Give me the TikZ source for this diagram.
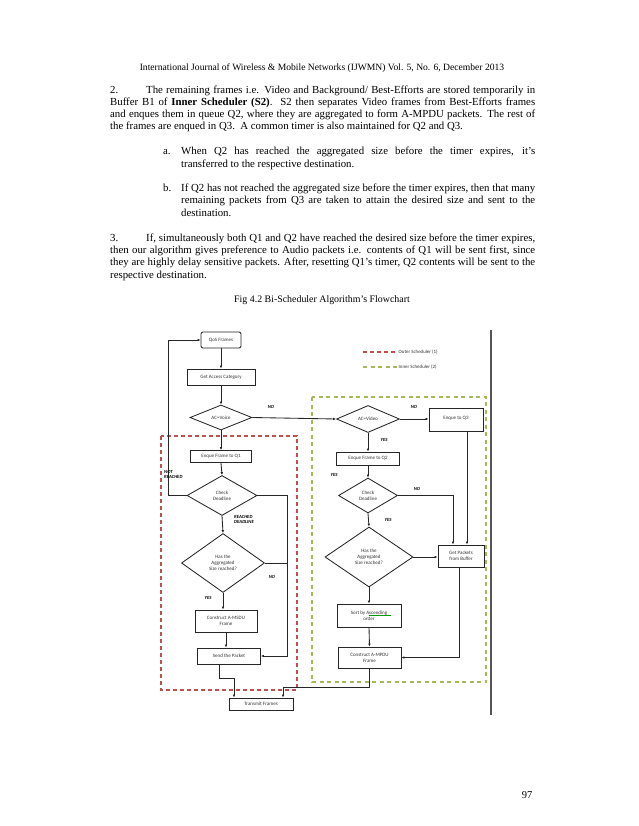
\documentclass[tikz,border=0pt]{standalone}
\usepackage{fontspec}
\setmainfont{Liberation Serif}
\newfontfamily\chartfont{Carlito}
\usetikzlibrary{shapes.geometric,arrows.meta}
\definecolor{outerred}{HTML}{C0504D}
\definecolor{innergreen}{HTML}{A5B95A}
\definecolor{pageline}{HTML}{555555}
\begin{document}
\begin{tikzpicture}[x=1pt,y=-1pt,
  txt/.style={font=\fontsize{10.8}{12}\selectfont, inner sep=0pt, anchor=base west},
  box/.style={draw=black!85, line width=0.85pt, inner sep=0pt, font=\chartfont\fontsize{5}{6}\selectfont, align=center, text=black!80},
  dia/.style={box, diamond},
  arr/.style={draw=black!85, line width=0.85pt, -{Latex[length=3pt,width=2.6pt]}},
  ln/.style={draw=black!85, line width=0.85pt},
  lab/.style={font=\chartfont\bfseries\itshape\fontsize{4.7}{5.7}\selectfont, inner sep=0pt, align=left},
  leg/.style={font=\chartfont\fontsize{4.9}{5.9}\selectfont, inner sep=0pt, anchor=west, text=black!80}
]
\useasboundingbox[fill=white] (0,0) rectangle (638,826);

% ---------------- page text ----------------
\node[font=\fontsize{9.6}{11}\selectfont, inner sep=0pt, anchor=base] (hdr) at (322,70.5)
  {International Journal of Wireless \& Mobile Networks (IJWMN) Vol. 5, No. 6, December 2013};

\node[txt] (p2n) at (110,93.5) {2.};
\node[txt] (p2a) at (146,93.5) {\makebox[389pt][s]{The remaining frames i.e. Video and Background/ Best-Efforts are stored temporarily in}};
\node[txt] (p2b) at (110,105.5) {\makebox[425pt][s]{Buffer B1 of \textbf{Inner Scheduler (S2)}.\ \ S2 then separates Video frames from Best-Efforts frames}};
\node[txt] (p2c) at (110,117.5) {\makebox[425pt][s]{and enques them in queue Q2, where they are aggregated to form A-MPDU packets. The rest of}};
\node[txt] (p2d) at (110,130) {the frames are enqued in Q3.\ \ A common timer is also maintained for Q2 and Q3.};

\node[txt] (pan) at (163,154.5) {a.};
\node[txt] (pa1) at (181,154.5) {\makebox[354pt][s]{When Q2 has reached the aggregated size before the timer expires, it's}};
\node[txt] (pa2) at (181,167.5) {transferred to the respective destination.};

\node[txt] (pbn) at (163,191.5) {b.};
\node[txt] (pb1) at (181,191.5) {\makebox[354pt][s]{If Q2 has not reached the aggregated size before the timer expires, then that many}};
\node[txt] (pb2) at (181,204) {\makebox[354pt][s]{remaining packets from Q3 are taken to attain the desired size and sent to the}};
\node[txt] (pb3) at (181,216.5) {destination.};

\node[txt] (p3n) at (110,241.5) {3.};
\node[txt] (p3a) at (146,241.5) {\makebox[389pt][s]{If, simultaneously both Q1 and Q2 have reached the desired size before the timer expires,}};
\node[txt] (p3b) at (110,253.5) {\makebox[425pt][s]{then our algorithm gives preference to Audio packets i.e. contents of Q1 will be sent first, since}};
\node[txt] (p3c) at (110,265.5) {\makebox[425pt][s]{they are highly delay sensitive packets. After, resetting Q1's timer, Q2 contents will be sent to the}};
\node[txt] (p3d) at (110,278) {respective destination.};

\node[font=\fontsize{9.9}{11}\selectfont, inner sep=0pt, anchor=base] (cap) at (322,302.5)
  {Fig 4.2 Bi-Scheduler Algorithm's Flowchart};

\node[font=\fontsize{10.5}{12}\selectfont, inner sep=0pt] (pnum) at (527,795) {97};

% ---------------- page edge line ----------------
\draw[pageline, line width=1.8pt] (491,330) -- (491,715);

% ---------------- scheduler regions ----------------
\draw[outerred, line width=1.3pt, dash pattern=on 4pt off 3pt] (161,436) rectangle (297,690);
\draw[innergreen, line width=1.3pt, dash pattern=on 4pt off 3.5pt] (312,397) rectangle (486,682);

% legend
\draw[outerred, line width=1.3pt, dash pattern=on 4pt off 3pt] (363,352) -- (398,352);
\node[leg] (legO) at (398.5,352) {Outer Scheduler (1)};
\draw[innergreen, line width=1.3pt, dash pattern=on 4pt off 3.5pt] (363,367) -- (398,367);
\node[leg] (legI) at (398.5,367) {Inner Scheduler (2)};

% ---------------- left column ----------------
\node[box, rounded corners=2pt, minimum width=40pt, minimum height=16pt] (start) at (221,340) {QoS Frames};
\node[box, minimum width=68pt, minimum height=16pt] (gac) at (221,377) {Get Access Category};
\node[dia, minimum width=62pt, minimum height=25pt] (voice) at (221,417.5) {AC=Voice};
\node[box, minimum width=61pt, minimum height=12pt] (enq1) at (221,456.5) {Enque Frame to Q1};
\node[dia, minimum width=70pt, minimum height=40pt] (cdl) at (222,495.5) {Check\\Deadline};
\node[dia, minimum width=83pt, minimum height=59pt] (hal) at (223,563) {Has the\\Aggregated\\Size reached?};
\node[box, minimum width=62pt, minimum height=22pt] (amsdu) at (226,621) {Construct A-MSDU\\Frame};
\node[box, minimum width=63pt, minimum height=16pt] (send) at (229,656) {Send the Packet};
\node[box, minimum width=64pt, minimum height=12pt] (tx) at (261,704) {Transmit Frames};

% ---------------- right column ----------------
\node[dia, minimum width=63pt, minimum height=27pt] (video) at (368,419) {AC=Video};
\node[box, minimum width=54pt, minimum height=23pt,
      label={[font=\chartfont\fontsize{5}{6}\selectfont, text=black!80, anchor=north, yshift=-5pt]north:Enque to Q3}] (q3) at (456,419.5) {};
\node[box, minimum width=63pt, minimum height=13pt] (enq2) at (368,458.5) {Enque Frame to Q2};
\node[dia, minimum width=59pt, minimum height=35pt] (cdr) at (368,495.5) {Check\\Deadline};
\node[dia, minimum width=88pt, minimum height=60pt] (har) at (369,557) {Has the\\Aggregated\\Size reached?};
\node[box, minimum width=46pt, minimum height=22pt] (gpb) at (461,556) {Get Packets\\from Buffer};
\node[box, minimum width=64pt, minimum height=23pt] (sort) at (369,615.5) {Sort by Ascending\\order};
\node[box, minimum width=63pt, minimum height=21pt] (ampdu) at (369.5,657.5) {Construct A-MPDU\\Frame};
\draw[green!60!black, line width=0.4pt] (369,614.8) -- (391,614.8);

% ---------------- connectors: left ----------------
\draw[arr] (start.south) -- (gac.north);
\draw[arr] (gac.south) -- (voice.north);
\draw[arr] (voice.south) -- (enq1.north);
\draw[arr] (enq1.south) -- (cdl.north);
\draw[arr] (cdl.west) -- ++(-18,0) |- (start.west);
\draw[arr] (cdl.south) -- (hal.north);
\draw[arr] (cdl.east) -- ++(30,0) |- (send.east);
\draw[ln] (hal.east) -- ++(22.5,0);
\draw[arr] (hal.south) -- (hal.south |- amsdu.north);
\draw[arr] (amsdu.south) -- (amsdu.south |- send.north);
\draw[arr] ([xshift=-10pt]send.south) -- ++(0,14) -| ([xshift=-27pt]tx.north);

% ---------------- connectors: right ----------------
\draw[arr] (voice.east) -- (video.west);
\draw[arr] (video.east) -- (video.east -| q3.west);
\draw[arr] (video.south) -- (enq2.north);
\draw[arr] (enq2.south) -- (cdr.north);
\draw[arr] (cdr.east) -| ([xshift=-8pt]gpb.north);
\draw[arr] ([xshift=11pt]q3.south) -- ([xshift=11pt]q3.south |- gpb.north);
\draw[arr] (cdr.south) -- (har.north);
\draw[arr] (har.east) -- (har.east -| gpb.west);
\draw[arr] (har.south) -- (sort.north);
\draw[arr] (sort.south) -- (ampdu.north);
\draw[arr] ([xshift=-2pt]gpb.south) |- (ampdu.east);
\draw[arr] (ampdu.south) -- ++(0,19) -| ([xshift=22pt]tx.north);

% ---------------- branch labels ----------------
\node[lab] (l1) at (271,407) {NO};
\node[lab] (l2) at (414,407) {NO};
\node[lab] (l3) at (384,439.5) {YES};
\node[lab] (l4) at (334,474.5) {YES};
\node[lab] (l5) at (417,489) {NO};
\node[lab] (l6) at (388,519.5) {YES};
\node[lab, anchor=north west] (l7) at (164,470) {NOT\\REACHED};
\node[lab, anchor=north west] (l8) at (234,515) {REACHED\\DEADLINE};
\node[lab] (l9) at (272,577) {NO};
\node[lab] (l10) at (208,597.5) {YES};
\end{tikzpicture}
\end{document}
